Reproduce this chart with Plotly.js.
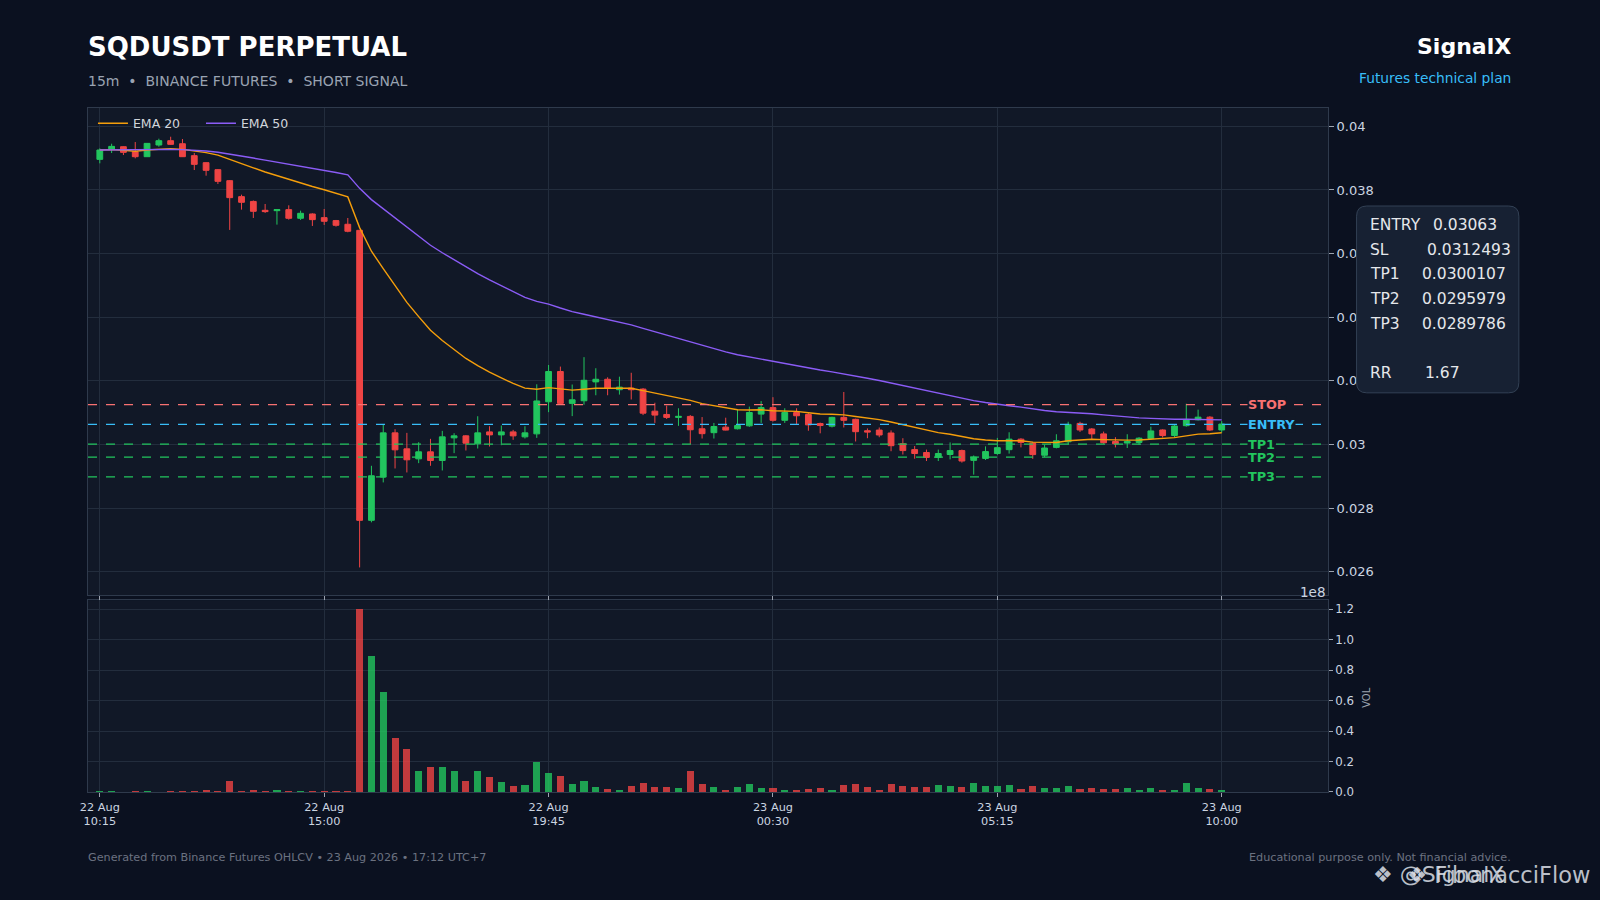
<!DOCTYPE html>
<html>
<head>
<meta charset="utf-8">
<script src="https://cdn.plot.ly/plotly-3.0.1.min.js"></script>
<style>
html,body{margin:0;padding:0;background:#0b1120;}
#chart{width:1600px;height:900px;}
</style>
</head>
<body>
<div id="chart"></div>
<script>
// ---- data ----
const startTime = '2026-08-22T10:15:00';   // first 15m candle
const intervalMinutes = 15;

const openP = [0.038963,0.039278,0.039361,0.039204,0.039047,0.039414,0.03955,0.039455,0.039079,0.038859,
0.038639,0.038293,0.037791,0.03764,0.037361,0.03735,0.037382,0.03711,0.037246,0.037131,
0.037037,0.036922,0.036732,0.027613,0.028972,0.030363,0.029861,0.029547,0.029767,0.029495,
0.030206,0.030269,0.030018,0.030394,0.0303,0.030394,0.030238,0.030332,0.031341,0.032293,
0.03129,0.031372,0.031966,0.032048,0.03172,0.031771,0.03174,0.031045,0.030942,0.03085,
0.030881,0.030492,0.030369,0.030543,0.030492,0.030584,0.030953,0.031157,0.030758,0.031004,
0.030942,0.030656,0.030574,0.03085,0.030789,0.03043,0.030451,0.030359,0.030021,0.029837,
0.029745,0.029591,0.029683,0.029806,0.029499,0.02956,0.029714,0.029835,0.030165,0.030042,
0.02966,0.029907,0.030083,0.030661,0.030485,0.030331,0.030093,0.030042,0.030062,0.030186,
0.030454,0.030279,0.030589,0.030775,0.030857,0.030454];
const highP = [0.039309,0.039455,0.039372,0.039508,0.039476,0.039613,0.039675,0.039602,0.039162,0.03887,
0.03866,0.038314,0.037853,0.03767,0.03756,0.037392,0.037518,0.03735,0.037267,0.037403,
0.037058,0.03712,0.03674,0.029328,0.030635,0.030478,0.030363,0.03007,0.030175,0.030426,
0.030353,0.03029,0.030886,0.030572,0.030593,0.030457,0.030572,0.03189,0.032498,0.032447,
0.031884,0.032744,0.032396,0.03211,0.03213,0.032253,0.031771,0.031311,0.031219,0.031137,
0.030922,0.03086,0.030676,0.03084,0.031106,0.031188,0.031362,0.031485,0.031137,0.031137,
0.030983,0.030686,0.030871,0.031649,0.03081,0.030502,0.030533,0.03044,0.030195,0.029949,
0.029837,0.029837,0.030062,0.029837,0.029652,0.029939,0.030205,0.030382,0.030196,0.030083,
0.02999,0.03032,0.030713,0.030713,0.030516,0.030403,0.030227,0.03032,0.030227,0.030558,
0.030475,0.03063,0.03128,0.031094,0.030888,0.030733];
const lowP = [0.038838,0.039162,0.039099,0.038995,0.039037,0.039361,0.039425,0.039037,0.038628,0.03845,
0.038189,0.036744,0.037382,0.03712,0.037278,0.036911,0.037068,0.037058,0.036869,0.036901,
0.036848,0.03667,0.026132,0.02755,0.028805,0.029244,0.029119,0.029411,0.029328,0.029181,
0.029725,0.029809,0.029872,0.029934,0.029976,0.030144,0.030185,0.030206,0.031014,0.031249,
0.03089,0.031249,0.031546,0.031546,0.031567,0.031413,0.030922,0.030676,0.030799,0.030584,
0.030011,0.030185,0.030185,0.03044,0.030471,0.030553,0.030676,0.030717,0.030676,0.030635,
0.03043,0.030349,0.030533,0.030533,0.030093,0.030195,0.030226,0.029786,0.029683,0.02955,
0.029478,0.029478,0.029529,0.029427,0.02905,0.029509,0.029673,0.029711,0.029907,0.029546,
0.029598,0.029876,0.03,0.030393,0.030145,0.030021,0.029907,0.029887,0.02999,0.030145,
0.030217,0.030227,0.030558,0.030754,0.030423,0.03037];
const closeP = [0.039257,0.039372,0.039183,0.039047,0.039466,0.03955,0.039435,0.039047,0.038806,0.038618,
0.038272,0.037759,0.037613,0.03733,0.03732,0.037382,0.03711,0.037267,0.037068,0.037016,
0.03689,0.036702,0.027613,0.029014,0.030363,0.02983,0.029516,0.029767,0.029495,0.030238,
0.030269,0.030039,0.030363,0.0303,0.030394,0.030269,0.030363,0.031367,0.032293,0.03129,
0.031403,0.032017,0.032048,0.031771,0.031802,0.03172,0.030983,0.030922,0.03085,0.030881,
0.030461,0.030338,0.030563,0.030451,0.030594,0.031004,0.031157,0.030758,0.031004,0.030901,
0.030615,0.030594,0.03085,0.030758,0.0304,0.030389,0.030297,0.02996,0.029806,0.029714,
0.029591,0.029714,0.029806,0.029478,0.029601,0.029775,0.029898,0.030165,0.030062,0.02968,
0.029887,0.030114,0.03063,0.030454,0.030331,0.030052,0.030021,0.030093,0.030196,0.030424,
0.030279,0.030578,0.030785,0.030857,0.030454,0.03064];
const ema20 = [0.039257,0.039268,0.03925,0.03922,0.039259,0.039287,0.039301,0.039277,0.039232,0.039173,
0.039097,0.038971,0.038842,0.038697,0.038565,0.038449,0.038322,0.038222,0.038111,0.038007,
0.037898,0.037783,0.036817,0.036074,0.03553,0.034987,0.034466,0.034019,0.033588,0.033269,
0.032983,0.032703,0.03248,0.032272,0.032093,0.031919,0.031771,0.031733,0.031786,0.031738,
0.031706,0.031736,0.031766,0.031766,0.03177,0.031765,0.03169,0.031617,0.031544,0.03148,
0.031383,0.031283,0.031214,0.031142,0.03109,0.031082,0.031089,0.031057,0.031052,0.031038,
0.030997,0.030958,0.030948,0.03093,0.030879,0.030832,0.030781,0.030703,0.030617,0.030531,
0.030441,0.030372,0.030318,0.030238,0.030177,0.030139,0.030116,0.03012,0.030115,0.030073,
0.030055,0.03006,0.030114,0.030146,0.030163,0.030152,0.030139,0.030134,0.03014,0.030167,
0.030177,0.030215,0.030269,0.030325,0.030337,0.030366];
const ema50 = [0.039257,0.039262,0.039259,0.039251,0.039259,0.03927,0.039277,0.039268,0.03925,0.039225,
0.039188,0.039132,0.039072,0.039004,0.038938,0.038877,0.038808,0.038748,0.038682,0.038617,
0.038549,0.038477,0.038051,0.037697,0.03741,0.037113,0.036815,0.036539,0.036263,0.036027,
0.035801,0.035575,0.035371,0.035172,0.034985,0.0348,0.034626,0.034498,0.034412,0.03429,
0.034177,0.034092,0.034012,0.033924,0.033841,0.033758,0.033649,0.033542,0.033437,0.033337,
0.033224,0.033111,0.033011,0.032911,0.03282,0.032749,0.032687,0.032611,0.032548,0.032483,
0.03241,0.032339,0.032281,0.032221,0.03215,0.032081,0.032011,0.031931,0.031847,0.031764,
0.031679,0.031602,0.031531,0.031451,0.031378,0.031316,0.03126,0.031217,0.031172,0.031113,
0.031065,0.031028,0.031012,0.03099,0.030964,0.030929,0.030893,0.030862,0.030836,0.03082,
0.030798,0.03079,0.03079,0.030792,0.030779,0.030773];
const volume = [0.006e8,0.004e8,0.003e8,0.005e8,0.006e8,0.003e8,0.004e8,0.005e8,0.006e8,0.010e8,
0.006e8,0.074e8,0.006e8,0.011e8,0.005e8,0.010e8,0.005e8,0.005e8,0.004e8,0.004e8,
0.005e8,0.006e8,1.20e8,0.891e8,0.656e8,0.355e8,0.283e8,0.139e8,0.166e8,0.166e8,
0.139e8,0.074e8,0.139e8,0.100e8,0.065e8,0.040e8,0.045e8,0.200e8,0.124e8,0.108e8,
0.050e8,0.075e8,0.035e8,0.020e8,0.015e8,0.040e8,0.060e8,0.035e8,0.030e8,0.025e8,
0.137e8,0.055e8,0.030e8,0.015e8,0.035e8,0.055e8,0.025e8,0.025e8,0.015e8,0.015e8,
0.020e8,0.025e8,0.015e8,0.045e8,0.055e8,0.030e8,0.015e8,0.055e8,0.042e8,0.035e8,
0.035e8,0.048e8,0.042e8,0.035e8,0.061e8,0.042e8,0.042e8,0.048e8,0.022e8,0.042e8,
0.028e8,0.028e8,0.042e8,0.022e8,0.028e8,0.022e8,0.022e8,0.028e8,0.015e8,0.028e8,
0.015e8,0.015e8,0.061e8,0.028e8,0.022e8,0.015e8];

const levelNames  = ['STOP','ENTRY','TP1','TP2','TP3'];
const levelPrices = [0.0312493, 0.03063, 0.0300107, 0.0295979, 0.0289786];
const levelColors = ['#f87171','#38bdf8','#22c55e','#22c55e','#22c55e'];

const planLabels = ['ENTRY','SL','TP1','TP2','TP3','RR'];
const planValues = ['0.03063','0.0312493','0.0300107','0.0295979','0.0289786','1.67'];

const volTickVals = [0, 0.2e8, 0.4e8, 0.6e8, 0.8e8, 1.0e8, 1.2e8];
const volTickText = ['0.0','0.2','0.4','0.6','0.8','1.0','1.2'];

// ---- build times ----
const t0 = Date.parse(startTime + 'Z');
function fmt(ms){ return new Date(ms).toISOString().slice(0,19).replace('T',' '); }
const times = closeP.map((_, i) => fmt(t0 + i*intervalMinutes*60000));
const step = intervalMinutes*60000;

const GREEN = '#22c55e', RED = '#ef4444';
const volColors = closeP.map((c,i) => c >= openP[i] ? 'rgba(34,197,94,0.8)' : 'rgba(239,68,68,0.8)');

const FONT = 'DejaVu Sans, Liberation Sans, sans-serif';
const GRID = '#232d3d', FRAME = '#2f3a4c', TICKC = '#cbd5e1';

const traces = [
  {type:'candlestick', x:times, open:openP, high:highP, low:lowP, close:closeP,
   xaxis:'x2', yaxis:'y', showlegend:false, whiskerwidth:0,
   increasing:{line:{color:GREEN,width:1}, fillcolor:GREEN},
   decreasing:{line:{color:RED,width:1}, fillcolor:RED}, hoverinfo:'skip'},
  {type:'scatter', mode:'lines', x:times, y:ema20, name:'EMA 20\u00a0\u00a0\u00a0\u00a0', xaxis:'x2', yaxis:'y',
   line:{color:'#f59e0b', width:1.4}},
  {type:'scatter', mode:'lines', x:times, y:ema50, name:'EMA 50', xaxis:'x2', yaxis:'y',
   line:{color:'#8b5cf6', width:1.4}},
  {type:'bar', x:times, y:volume, xaxis:'x', yaxis:'y2', showlegend:false,
   marker:{color:volColors, line:{width:0}}, width: step*0.6}
];

// paper coordinate helpers (measured plot area on the reference: x 86..1301, y 106..776)
const PX = x => (x-86)/1215;
const PY = y => (776-y)/670;

const shapes = levelPrices.map((p,i) => ({
  type:'line', xref:'paper', yref:'y', x0:0, x1:1, y0:p, y1:p,
  line:{color:levelColors[i], width:1.3, dash:'dash'}, layer:'above'
}));
// rounded info box
(function(){
  const x0=PX(1329), x1=PX(1488), y0=PY(385), y1=PY(202);
  const rx=10/1215, ry=10/670;
  const path = `M ${x0+rx},${y1} L ${x1-rx},${y1} Q ${x1},${y1} ${x1},${y1-ry} L ${x1},${y0+ry} Q ${x1},${y0} ${x1-rx},${y0} L ${x0+rx},${y0} Q ${x0},${y0} ${x0},${y0+ry} L ${x0},${y1-ry} Q ${x0},${y1} ${x0+rx},${y1} Z`;
  shapes.push({type:'path', xref:'paper', yref:'paper', path, fillcolor:'#172133',
    line:{color:'#334155', width:1}, layer:'above'});
})();

const ann = [];
function A(o){ ann.push(Object.assign({xref:'paper', yref:'paper', showarrow:false, xanchor:'left', yanchor:'middle'}, o)); }
A({x:PX(84.5), y:PY(46), text:'SQDUSDT PERPETUAL', font:{family:FONT, size:26, color:'#ffffff', weight:'bold'}});
A({x:PX(84.5), y:PY(80), text:'15m\u00a0\u00a0•\u00a0\u00a0BINANCE FUTURES\u00a0\u00a0•\u00a0\u00a0SHORT SIGNAL', font:{family:FONT, size:14, color:'#9aa3b2'}});
A({x:PX(1482), y:PY(46), xanchor:'right', text:'SignalX', font:{family:FONT, size:22, color:'#ffffff', weight:'bold'}});
A({x:PX(1482), y:PY(77), xanchor:'right', text:'Futures technical plan', font:{family:FONT, size:13.8, color:'#38bdf8'}});
A({x:PX(84.5), y:PY(840), text:'Generated from Binance Futures OHLCV • 23 Aug 2026 • 17:12 UTC+7', font:{family:FONT, size:11.2, color:'#6b7280'}});
A({x:PX(1482), y:PY(840), xanchor:'right', text:'Educational purpose only. Not financial advice.', font:{family:FONT, size:11.2, color:'#6b7280'}});
A({x:PX(1300), y:PY(580), xanchor:'right', text:'1e8', font:{family:FONT, size:13.5, color:TICKC}});
A({x:PX(1338), y:PY(683), xanchor:'center', textangle:-90, text:'VOL', font:{family:FONT, size:10, color:'#9ca3af'}});
// watermark (two overlapping brand marks, as in the reference)
A({x:PX(1343), y:PY(857), text:'❖ @SignalX', font:{family:FONT, size:22, color:'rgba(220,224,232,0.85)'}});
A({x:PX(1376), y:PY(857), text:'❖ FibonacciFlow', font:{family:FONT, size:22.5, color:'rgba(220,224,232,0.85)'}});
// level labels
levelNames.forEach((n,i) => {
  ann.push({xref:'paper', yref:'y', x:PX(1222), y:levelPrices[i], xanchor:'left', yanchor:'middle',
    showarrow:false, text:n, bgcolor:'#111827', borderpad:0,
    font:{family:FONT, size:12.8, color:levelColors[i], weight:'bold'}});
});
// info box text
const rowY = [221,245,269,293,318,366];
const valX = [1402,1396,1391,1391,1391,1394];
planLabels.forEach((l,i) => {
  A({x:PX(1340), y:PY(rowY[i]), text:l, font:{family:FONT, size:15.5, color:'#e5e7eb'}});
  A({x:PX(valX[i]), y:PY(rowY[i]), text:planValues[i], font:{family:FONT, size:15.5, color:'#e5e7eb'}});
});

const layout = {
  width:1600, height:900,
  paper_bgcolor:'#0b1120', plot_bgcolor:'#111827',
  margin:{l:88, r:272, t:108, b:108, pad:0},
  font:{family:FONT, color:TICKC},
  showlegend:true,
  legend:{orientation:'h', x:0.004, y:0.999, xanchor:'left', yanchor:'top', bgcolor:'rgba(0,0,0,0)',
          font:{family:FONT, size:12.5, color:'#d1d5db'}, itemwidth:30, tracegroupgap:0},
  xaxis:{domain:[0,1], anchor:'y2', type:'date',
    range:[fmt(t0 - step), fmt(t0 + 104*step)],
    tick0:times[0], dtick:19*step, tickformat:'%d %b<br>%H:%M',
    ticks:'outside', ticklen:4, tickcolor:'#9ca3af',
    tickfont:{family:FONT, size:11.3, color:TICKC},
    showgrid:true, gridcolor:GRID, gridwidth:1,
    showline:true, mirror:true, linecolor:FRAME, zeroline:false,
    rangeslider:{visible:false}},
  xaxis2:{matches:'x', anchor:'y', type:'date', showticklabels:false,
    tick0:times[0], dtick:19*step,
    ticks:'outside', ticklen:4, tickcolor:'#9ca3af',
    showgrid:true, gridcolor:GRID, gridwidth:1,
    showline:true, mirror:true, linecolor:FRAME, zeroline:false,
    rangeslider:{visible:false}},
  yaxis:{domain:[0.288,1], anchor:'x2', side:'right',
    range:[0.025265, 0.040578], tick0:0.026, dtick:0.002,
    ticks:'outside', ticklen:5, tickcolor:'#9ca3af',
    tickfont:{family:FONT, size:13, color:TICKC},
    showgrid:true, gridcolor:GRID, showline:true, mirror:true, linecolor:FRAME, zeroline:false},
  yaxis2:{domain:[0,0.2806], anchor:'x', side:'right',
    range:[0, 1.26e8], tickvals:volTickVals, ticktext:volTickText,
    ticks:'outside', ticklen:4, tickcolor:'#9ca3af',
    tickfont:{family:FONT, size:11.8, color:TICKC},
    showgrid:true, gridcolor:GRID, showline:true, mirror:true, linecolor:FRAME, zeroline:false},
  bargap:0,
  shapes:shapes,
  annotations:ann
};

Plotly.newPlot('chart', traces, layout, {displayModeBar:false, staticPlot:true});
</script>
</body>
</html>
